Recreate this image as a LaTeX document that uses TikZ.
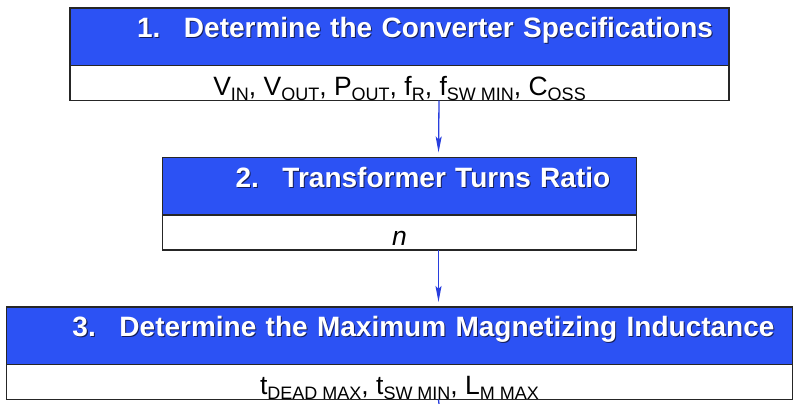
\documentclass[tikz,border=0pt]{standalone}
\usepackage{fontspec}
\setmainfont{Liberation Sans}
\usetikzlibrary{positioning,arrows.meta}

\definecolor{stepblue}{RGB}{44,82,244}
\definecolor{arrowblue}{RGB}{40,62,222}
\definecolor{shadowblue}{RGB}{20,30,90}

% subscript as in the slide
\newcommand{\sub}[1]{\raisebox{-5pt}{\fontsize{18}{18}\selectfont #1}}
% step title: left offset, number, text (white with a small drop shadow)
\newcommand{\steptitle}[3]{\hspace*{#1}%
  \makebox[0pt][l]{\raisebox{-1pt}{\kern1pt\color{shadowblue}\makebox[47pt][l]{#2}#3}}%
  \makebox[47pt][l]{#2}#3}

\tikzset{
  head/.style={draw=black!85, line width=1.2pt, fill=stepblue, text=white,
    font=\bfseries\fontsize{28}{28}\selectfont, align=left,
    inner xsep=0pt, inner ysep=0pt, outer sep=0pt, text height=29.5pt, text depth=28pt},
  row/.style={draw=black!85, line width=1.2pt, fill=white,
    font=\fontsize{26.5}{26.5}\selectfont,
    inner xsep=0pt, inner ysep=0pt, outer sep=0pt, text height=30pt, text depth=5pt},
  flow/.style={draw=arrowblue, line width=1.3pt,
    -{Stealth[length=16pt,width=6pt,inset=3pt]}, shorten >=5pt},
  stub/.style={draw=arrowblue, line width=1.3pt},
}

\begin{document}
\begin{tikzpicture}[x=1pt,y=1pt,yscale=-1]
\useasboundingbox (0,0) rectangle (800,404);

% step 1
\node[head, text width=659pt, anchor=north] (h1) at (399.5,8)
  {\steptitle{67pt}{1.}{Determine the Converter Specifications}};
\node[row, minimum width=659pt, below=0pt of h1] (r1)
  {V\sub{IN}, V\sub{OUT}, P\sub{OUT}, f\sub{R}, f\sub{SW MIN}, C\sub{OSS}};

% step 2
\node[head, text width=474pt, below=57pt of r1] (h2)
  {\steptitle{73pt}{2.}{Transformer Turns Ratio}};
\node[row, minimum width=474pt, below=0pt of h2] (r2) {\textit{n}};

% step 3
\node[head, text width=786pt, below=57pt of r2] (h3)
  {\steptitle{66pt}{3.}{Determine the Maximum Magnetizing Inductance}};
\node[row, minimum width=786pt, below=0pt of h3] (r3)
  {t\sub{DEAD MAX}, t\sub{SW MIN}, L\sub{M MAX}};

% arrows
\draw[flow] ([xshift=39.5pt]r1.south) -- ([xshift=39pt]h2.north);
\draw[flow] ([xshift=39pt]r2.south) -- ([xshift=39pt]h3.north);
\coordinate (tail) at (439,404);
\draw[stub] ([xshift=39pt]r3.south) -- (tail);
\end{tikzpicture}
\end{document}
